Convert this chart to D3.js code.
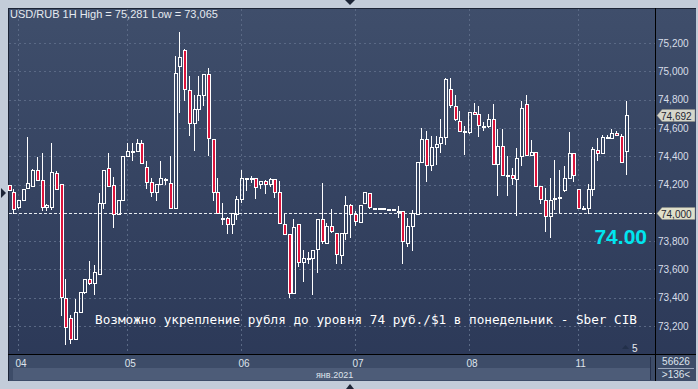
<!DOCTYPE html>
<html>
<head>
<meta charset="utf-8">
<script src="https://cdn.jsdelivr.net/npm/d3@7"></script>
<style>
  html, body { margin: 0; padding: 0; background: #c3ccd9; }
  svg { display: block; }
</style>
</head>
<body>
<div id="vis_result"></div>
<script>
// USD/RUB 1H candles
var dayLabels = ['04', '05', '06', '07', '08', '11']
var dayStart = [2, 25, 49, 73, 97, 120]   // bar index where each day begins
var yTicks = [73.2, 73.4, 73.6, 73.8, 74.0, 74.2, 74.4, 74.6, 74.8, 75.0, 75.2]

var open = [74.193, 74.148, 74.040, 74.090, 74.177, 74.190, 74.300, 74.235, 74.042, 74.040,
  74.283, 74.205, 73.400, 73.258, 73.105, 73.300, 73.440, 73.533, 73.505, 73.570,
  74.070, 74.320, 74.195, 73.990, 74.090, 74.400, 74.435, 74.435, 74.495, 74.325,
  74.220, 74.145, 74.207, 74.240, 74.210, 74.035, 75.036, 75.154, 74.865, 74.636,
  74.735, 74.830, 74.980, 74.525, 74.148, 73.955, 73.960, 73.922, 73.993, 74.099,
  74.245, 74.247, 74.245, 74.203, 74.226, 74.203, 74.240, 74.148, 73.922, 73.847,
  73.435, 73.920, 73.650, 73.677, 73.683, 73.745, 73.958, 73.790, 73.906, 73.860,
  73.705, 73.854, 74.052, 73.988, 73.936, 74.070, 74.141, 74.028, 74.033, 74.024,
  74.028, 74.028, 74.012, 74.012, 73.790, 73.910, 73.995, 74.358, 74.523, 74.340,
  74.466, 74.494, 74.537, 74.872, 74.754, 74.648, 74.577, 74.572, 74.710, 74.695,
  74.612, 74.612, 74.664, 74.346, 74.470, 74.264, 74.268, 74.236, 74.400, 74.770,
  74.412, 74.429, 74.188, 74.087, 73.976, 74.094, 74.110, 74.158, 74.247, 74.424,
  74.170, 74.033, 74.035, 74.170, 74.447, 74.424, 74.533, 74.530, 74.565, 74.540,
  74.436]
var high = [74.200, 74.165, 74.090, 74.170, 74.535, 74.310, 74.395, 74.420, 74.065, 74.495,
  74.295, 74.205, 73.530, 73.280, 73.390, 73.440, 73.530, 73.660, 73.630, 74.140,
  74.300, 74.420, 74.250, 74.090, 74.400, 74.495, 74.495, 74.520, 74.515, 74.365,
  74.245, 74.205, 74.365, 74.245, 74.400, 75.110, 75.281, 75.160, 74.966, 74.836,
  74.970, 74.980, 75.020, 74.525, 74.247, 74.066, 73.970, 74.000, 74.120, 74.300,
  74.247, 74.260, 74.245, 74.228, 74.235, 74.247, 74.240, 74.224, 73.990, 73.847,
  73.955, 73.920, 73.736, 73.720, 73.740, 73.953, 74.212, 73.930, 74.030, 73.860,
  73.860, 74.120, 74.060, 74.010, 74.052, 74.146, 74.141, 74.035, 74.033, 74.035,
  74.030, 74.028, 74.047, 74.012, 73.960, 74.020, 74.358, 74.596, 74.580, 74.540,
  74.540, 74.660, 74.954, 74.954, 74.830, 74.720, 74.610, 74.710, 74.777, 74.754,
  74.640, 74.695, 74.766, 74.590, 74.594, 74.400, 74.318, 74.459, 74.789, 74.836,
  74.515, 74.429, 74.188, 74.177, 74.243, 74.370, 74.306, 74.334, 74.570, 74.424,
  74.170, 74.045, 74.207, 74.464, 74.530, 74.550, 74.550, 74.590, 74.575, 74.560,
  74.789]
var low = [74.155, 73.988, 74.030, 74.085, 74.177, 74.185, 74.230, 74.010, 74.010, 74.020,
  74.165, 73.270, 73.065, 73.075, 73.100, 73.290, 73.425, 73.490, 73.420, 73.565,
  74.030, 74.185, 73.895, 73.985, 74.085, 74.395, 74.365, 74.430, 74.350, 74.170,
  74.115, 74.085, 74.200, 74.200, 74.035, 74.030, 74.707, 74.790, 74.540, 74.440,
  74.650, 74.755, 74.400, 74.080, 74.000, 73.913, 73.850, 73.852, 73.950, 74.066,
  74.155, 74.210, 74.094, 74.165, 74.130, 74.180, 74.106, 73.920, 73.845, 73.400,
  73.428, 73.620, 73.510, 73.640, 73.420, 73.574, 73.780, 73.780, 73.860, 73.640,
  73.640, 73.810, 73.820, 73.905, 73.930, 74.065, 74.030, 74.025, 74.020, 74.020,
  74.025, 74.015, 73.960, 73.635, 73.760, 73.730, 73.990, 74.350, 74.217, 74.295,
  74.335, 74.424, 74.480, 74.740, 74.650, 74.570, 74.410, 74.560, 74.690, 74.537,
  74.580, 74.600, 74.340, 74.120, 74.260, 74.118, 74.200, 73.976, 74.330, 74.400,
  74.400, 74.180, 74.060, 73.863, 73.823, 74.020, 74.000, 74.150, 74.240, 74.220,
  74.030, 74.020, 73.990, 74.120, 74.365, 74.420, 74.520, 74.525, 74.540, 74.355,
  74.270]
var close = [74.160, 74.028, 74.087, 74.170, 74.212, 74.300, 74.235, 74.042, 74.052, 74.290,
  74.170, 73.406, 73.195, 73.110, 73.300, 73.440, 73.530, 73.505, 73.580, 74.070,
  74.300, 74.190, 73.990, 74.090, 74.400, 74.435, 74.437, 74.495, 74.355, 74.220,
  74.145, 74.205, 74.247, 74.230, 74.035, 74.989, 75.102, 74.872, 74.636, 74.735,
  74.830, 74.980, 74.530, 74.148, 74.000, 73.965, 73.922, 74.000, 74.100, 74.247,
  74.247, 74.247, 74.184, 74.224, 74.203, 74.240, 74.148, 73.930, 73.850, 73.435,
  73.900, 73.650, 73.682, 73.683, 73.740, 73.953, 73.800, 73.906, 73.870, 73.710,
  73.854, 74.052, 73.988, 73.940, 74.052, 74.146, 74.040, 74.035, 74.024, 74.031,
  74.028, 74.019, 74.014, 73.800, 73.910, 74.000, 74.358, 74.523, 74.340, 74.466,
  74.488, 74.537, 74.947, 74.759, 74.660, 74.577, 74.580, 74.710, 74.695, 74.617,
  74.614, 74.664, 74.346, 74.470, 74.270, 74.270, 74.247, 74.389, 74.742, 74.412,
  74.429, 74.188, 74.094, 73.976, 74.090, 74.106, 74.113, 74.247, 74.424, 74.270,
  74.035, 74.036, 74.170, 74.452, 74.424, 74.535, 74.535, 74.565, 74.547, 74.358,
  74.692]

var lastPrice = 74.692
var levelPrice = 74.0

var data = open.map(function (o, i) {
  return { i: i, open: o, high: high[i], low: low[i], close: close[i] }
})

var width = 698, height = 389
var plotLeft = 9, plotRight = 655, plotTop = 9, plotBottom = 354

var svg = d3.select('#vis_result')
  .append('svg')
  .attr('width', width)
  .attr('height', height)
  .style('font-family', '"Liberation Sans", Arial, sans-serif')

var defs = svg.append('defs')
var grad = defs.append('linearGradient')
  .attr('id', 'bg').attr('x1', 0).attr('y1', 0).attr('x2', 0).attr('y2', 1)
grad.append('stop').attr('offset', '0%').attr('stop-color', '#3f4e6b')
grad.append('stop').attr('offset', '100%').attr('stop-color', '#2b3857')

// outer frame
svg.append('rect').attr('width', width).attr('height', height).attr('fill', '#c3ccd9')
svg.append('rect')
  .attr('x', 8).attr('y', 8).attr('width', 688).attr('height', 373)
  .attr('fill', 'url(#bg)')

// bottom axis band
svg.append('rect').attr('x', 8).attr('y', 355).attr('width', 688).attr('height', 26).attr('fill', '#3d4c68')
svg.append('rect').attr('x', 13).attr('y', 368).attr('width', 637).attr('height', 12).attr('fill', '#4d5c78')

svg.append('line').attr('x1', 8.5).attr('x2', 8.5).attr('y1', 8).attr('y2', 381).attr('stroke', '#1c2436')
svg.append('line').attr('x1', 8).attr('x2', 696).attr('y1', 8.5).attr('y2', 8.5).attr('stroke', '#1c2436')

// scales
var x = d3.scaleLinear().domain([0, 130]).range([9.5, 626.5])
var y = d3.scaleLinear().domain([73.2, 75.2]).range([326, 43])
function px(i) { return Math.round(x(i)) }
function py(v) { return Math.round(y(v)) }

// grid
var grid = svg.append('g')
grid.selectAll('hgrid')
  .data(yTicks)
  .enter()
  .append('line')
  .attr('x1', plotLeft).attr('x2', plotRight)
  .attr('y1', function (d) { return py(d) + 0.5 })
  .attr('y2', function (d) { return py(d) + 0.5 })
  .attr('stroke', '#5a6985')
  .attr('stroke-dasharray', '2,3')
grid.selectAll('vgrid')
  .data(dayStart)
  .enter()
  .append('line')
  .attr('x1', function (d) { return px(d) - 0.5 })
  .attr('x2', function (d) { return px(d) - 0.5 })
  .attr('y1', plotTop).attr('y2', plotBottom)
  .attr('stroke', '#5a6985')
  .attr('stroke-dasharray', '2,3')

// 74.000 level line
svg.append('line')
  .attr('x1', plotLeft).attr('x2', plotRight)
  .attr('y1', py(levelPrice) + 0.5).attr('y2', py(levelPrice) + 0.5)
  .attr('stroke', '#e8ecf2')
  .attr('stroke-dasharray', '3,2')

// candles
var candles = svg.append('g').attr('shape-rendering', 'crispEdges')
var bars = candles.selectAll('g.c')
  .data(data)
  .enter()
  .append('g')

function bodyTop(d) { return py(Math.max(d.open, d.close)) }
function bodyBot(d) { return Math.max(py(Math.min(d.open, d.close)), bodyTop(d) + 1) }

// upper wick
bars.append('line')
  .attr('x1', function (d) { return px(d.i) - 0.5 })
  .attr('x2', function (d) { return px(d.i) - 0.5 })
  .attr('y1', function (d) { return py(d.high) })
  .attr('y2', function (d) { return bodyTop(d) })
  .attr('stroke', '#ffffff')
// lower wick
bars.append('line')
  .attr('x1', function (d) { return px(d.i) - 0.5 })
  .attr('x2', function (d) { return px(d.i) - 0.5 })
  .attr('y1', function (d) { return bodyBot(d) })
  .attr('y2', function (d) { return Math.max(py(d.low), bodyBot(d)) })
  .attr('stroke', '#ffffff')
// body
bars.append('rect')
  .attr('x', function (d) { return px(d.i) - 2.5 + 0.5 })
  .attr('y', function (d) { return bodyTop(d) + 0.5 })
  .attr('width', 3)
  .attr('height', function (d) { return bodyBot(d) - bodyTop(d) })
  .attr('fill', function (d) { return d.close < d.open ? '#dc143c' : 'none' })
  .attr('stroke', '#ffffff')
  .attr('stroke-width', 1)

// right axis
svg.append('line').attr('x1', 655.5).attr('x2', 655.5).attr('y1', 8).attr('y2', 381).attr('stroke', '#000')
svg.append('line').attr('x1', 8).attr('x2', 696).attr('y1', 354.5).attr('y2', 354.5).attr('stroke', '#000')

// the 74,000 label is shown by its price tag instead
var yAxis = svg.append('g')
  .attr('transform', 'translate(655,0)')
  .call(d3.axisRight(y).tickValues(yTicks.filter(function (d) { return d !== levelPrice }))
    .tickSize(0).tickPadding(3)
    .tickFormat(function (d) { return d3.format('.3f')(d).replace('.', ',') }))
yAxis.select('.domain').remove()
yAxis.selectAll('text')
  .attr('fill', '#d8dee8')
  .style('font-size', '10px')
  .style('font-family', '"Liberation Sans", Arial, sans-serif')

// price tags
function priceTag(v, fill) {
  var cy = py(v) + 0.5
  var g = svg.append('g')
  g.append('path')
    .attr('d', 'M657,' + cy + ' L662,' + (cy - 6) + ' L695,' + (cy - 6) + ' L695,' + (cy + 6) + ' L662,' + (cy + 6) + ' Z')
    .attr('fill', fill)
    .attr('stroke', '#8a8a80')
    .attr('stroke-width', 0.5)
  g.append('text')
    .attr('x', 661).attr('y', cy + 4)
    .attr('fill', '#1e2430')
    .style('font-size', '10px')
    .text(d3.format('.3f')(v).replace('.', ','))
}
priceTag(lastPrice, '#d6d7cc')
priceTag(levelPrice, '#dfdfca')

// bottom axis (days)
var xAxis = svg.append('g')
  .attr('transform', 'translate(0,355)')
  .call(d3.axisBottom(x).tickValues(dayStart).tickSize(0).tickPadding(0)
    .tickFormat(function (d, i) { return dayLabels[i] }))
xAxis.select('.domain').remove()
xAxis.selectAll('text')
  .attr('text-anchor', 'start')
  .attr('dx', -4)
  .attr('dy', 12)
  .attr('fill', '#dfe4ec')
  .style('font-size', '10px')
  .style('font-family', '"Liberation Sans", Arial, sans-serif')

svg.append('text')
  .attr('x', 316).attr('y', 378)
  .attr('fill', '#dfe4ec')
  .style('font-size', '9px')
  .text('янв.2021')

// right bottom box
svg.append('line').attr('x1', 650.5).attr('x2', 650.5).attr('y1', 357).attr('y2', 380).attr('stroke', '#25304a')
svg.append('text').attr('x', 676).attr('y', 365).attr('text-anchor', 'middle')
  .attr('fill', '#dfe4ec').style('font-size', '10px').text('56626')
svg.append('line').attr('x1', 658).attr('x2', 694).attr('y1', 368.5).attr('y2', 368.5).attr('stroke', '#9aa6ba')
svg.append('text').attr('x', 676).attr('y', 378).attr('text-anchor', 'middle')
  .attr('fill', '#dfe4ec').style('font-size', '10px').text('>136<')

// title
svg.append('text')
  .attr('x', 10).attr('y', 18)
  .attr('fill', '#e6eaf0')
  .style('font-size', '11px')
  .text('USD/RUB 1H High = 75,281 Low = 73,065')

// annotation
svg.append('text')
  .attr('x', 95).attr('y', 324)
  .attr('fill', '#ffffff')
  .attr('textLength', 542)
  .attr('lengthAdjust', 'spacingAndGlyphs')
  .style('font-family', '"DejaVu Sans Mono", monospace')
  .style('font-size', '13px')
  .text('Возможно укрепление рубля до уровня 74 руб./$1 в понедельник - Sber CIB')

svg.append('text')
  .attr('x', 647).attr('y', 244)
  .attr('text-anchor', 'end')
  .attr('fill', '#00e5ef')
  .style('font-size', '21px')
  .style('font-weight', 'bold')
  .text('74.00')

// small markers
svg.append('path').attr('d', 'M622,349 L625.5,345 L629,349 Z').attr('fill', '#22304a')
svg.append('text').attr('x', 632).attr('y', 352).attr('fill', '#e6eaf0').style('font-size', '10px').text('5')
svg.append('path').attr('d', 'M1,188 L6,193 L1,198 Z').attr('fill', '#1c2436')
svg.append('path').attr('d', 'M345,0 L355,0 L350,5 Z').attr('fill', '#1c2436')
svg.append('path').attr('d', 'M346,389 L350,384 L354,389 Z').attr('fill', '#1c2436')
</script>
</body>
</html>
